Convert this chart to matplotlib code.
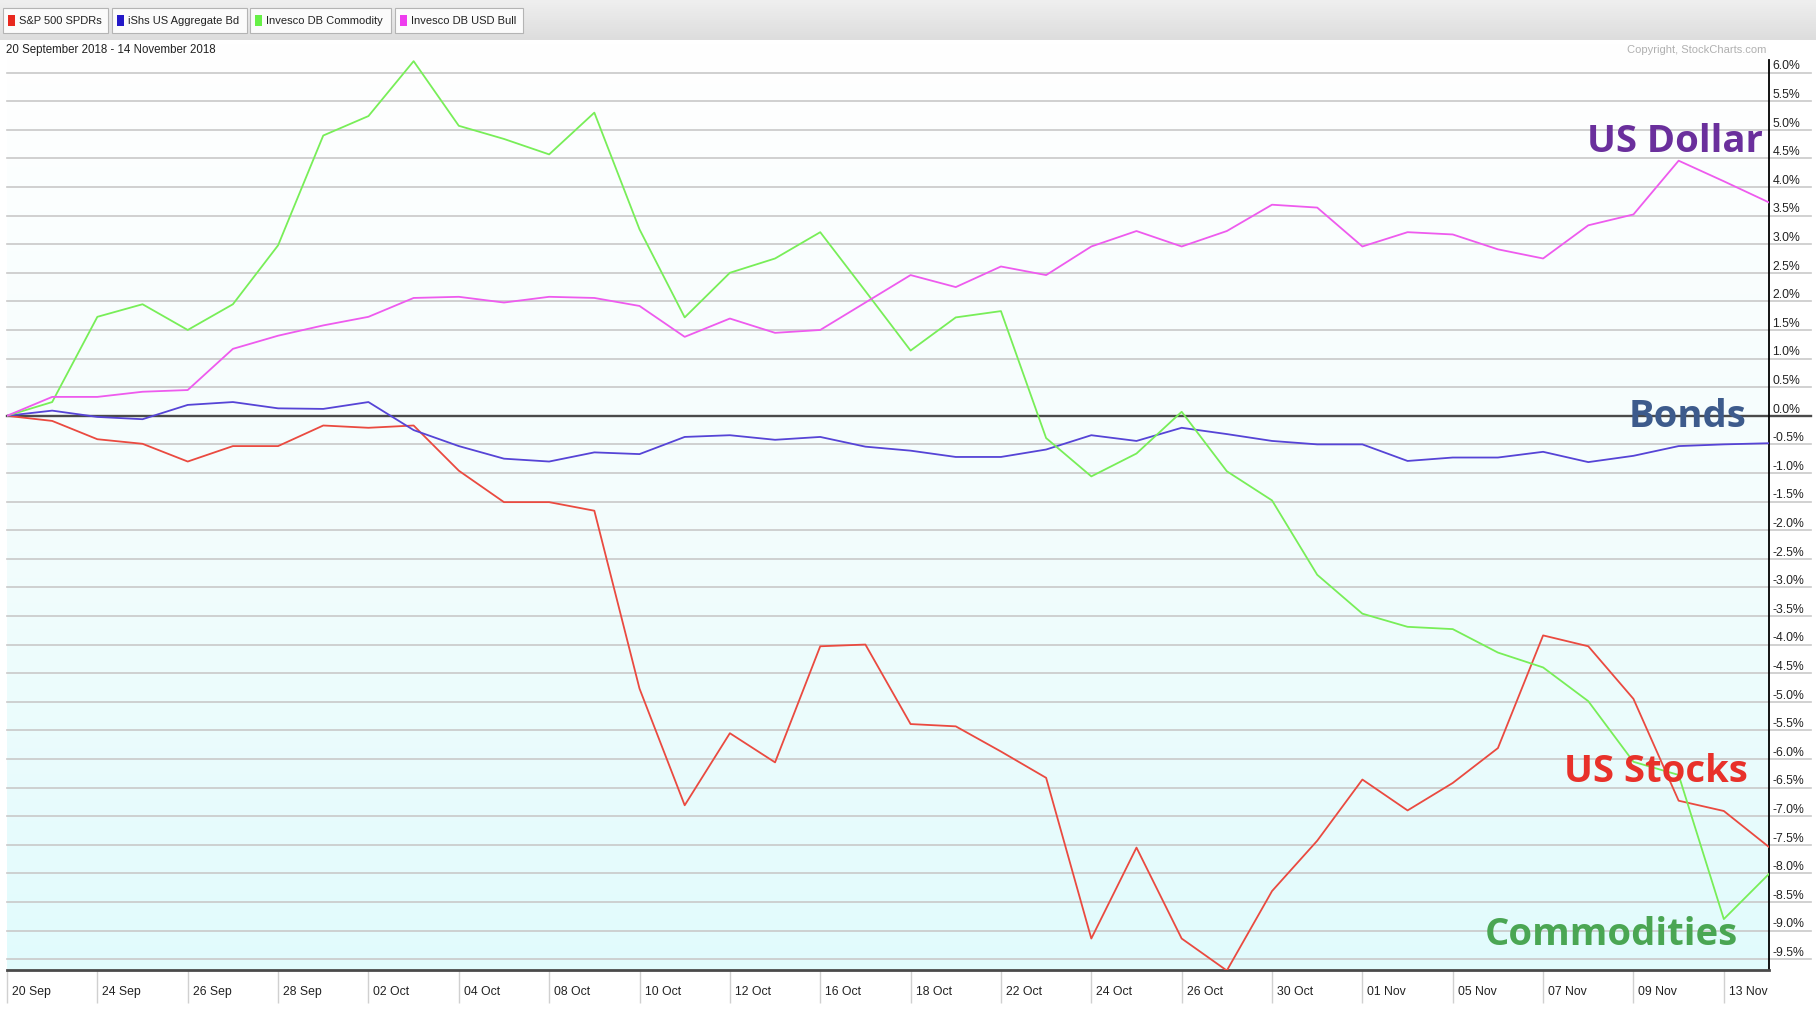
import numpy as np
import pandas as pd
import matplotlib
matplotlib.use('Agg')
import matplotlib.pyplot as plt
from matplotlib.colors import LinearSegmentedColormap
from matplotlib.transforms import ScaledTranslation
from matplotlib.patches import Rectangle

W, H = 1816, 1014
NARROW = ['Liberation Sans Narrow', 'Liberation Sans', 'DejaVu Sans']

# trading days 20 Sep 2018 - 14 Nov 2018
dates = [d.strftime('%d %b') for d in pd.bdate_range('2018-09-20', '2018-11-14')]

# percent change since 20 Sep
spy = [0, -0.09, -0.41, -0.49, -0.80, -0.53, -0.53, -0.17, -0.21, -0.17,
       -0.96, -1.51, -1.51, -1.66, -4.77, -6.81, -5.55, -6.06, -4.03, -4.00,
       -5.39, -5.43, -5.87, -6.33, -9.14, -7.55, -9.14, -9.70, -8.31, -7.43,
       -6.36, -6.90, -6.42, -5.81, -3.84, -4.03, -4.95, -6.73, -6.91, -7.54]
agg = [0, 0.09, -0.02, -0.06, 0.19, 0.24, 0.13, 0.12, 0.24, -0.25,
       -0.53, -0.75, -0.80, -0.64, -0.67, -0.37, -0.34, -0.42, -0.37, -0.54,
       -0.61, -0.72, -0.72, -0.59, -0.34, -0.44, -0.21, -0.32, -0.44, -0.50,
       -0.50, -0.79, -0.73, -0.73, -0.63, -0.81, -0.70, -0.53, -0.50, -0.48]
dbc = [0, 0.24, 1.73, 1.95, 1.50, 1.95, 2.98, 4.90, 5.24, 6.20,
       5.07, 4.84, 4.57, 5.30, 3.26, 1.72, 2.50, 2.75, 3.21, 2.18,
       1.14, 1.72, 1.83, -0.39, -1.06, -0.66, 0.07, -0.97, -1.48, -2.78,
       -3.46, -3.69, -3.73, -4.14, -4.40, -4.99, -6.05, -6.28, -8.80, -8.01]
uup = [0, 0.33, 0.33, 0.42, 0.45, 1.17, 1.40, 1.58, 1.73, 2.06,
       2.08, 1.98, 2.08, 2.06, 1.92, 1.38, 1.70, 1.45, 1.50, 1.98,
       2.46, 2.25, 2.61, 2.46, 2.96, 3.23, 2.96, 3.23, 3.69, 3.64,
       2.96, 3.21, 3.17, 2.91, 2.75, 3.33, 3.52, 4.46, 4.10, 3.73]

names = ['S&P 500 SPDRs', 'iShs US Aggregate Bd', 'Invesco DB Commodity', 'Invesco DB USD Bull']
series = [spy, agg, dbc, uup]
line_colors = ['#ea4a40', '#5644d6', '#78ee58', '#ee5bee']
key_colors = ['#e8281e', '#2318c8', '#66f046', '#ee3cee']

levels = np.round(np.arange(-9.5, 6.01, 0.5), 1)


def fx(px):
    return px / W


def fy(py):
    return 1 - py / H


fig = plt.figure(figsize=(W / 100, H / 100), dpi=100, facecolor='white')

# grey header bar with the legend "buttons"
hdr = fig.add_axes([0, fy(40), 1, 40 / H])
hdr.axis('off')
hdr.imshow(np.linspace(0, 1, 64).reshape(-1, 1), aspect='auto', extent=(0, 1, 0, 1),
           cmap=LinearSegmentedColormap.from_list('hdr', ['#efefef', '#dddddd']))
hdr.set_xlim(0, 1)
hdr.set_ylim(0, 1)

buttons = [(3, 108), (112, 247), (250, 391), (395, 523)]
for (x0, x1), name, col in zip(buttons, names, key_colors):
    fig.patches.append(Rectangle((fx(x0), fy(33)), (x1 - x0) / W, 25 / H, transform=fig.transFigure,
                                 fc='#fbfbfb', ec='#b4b4b4', lw=0.8, zorder=3))
    fig.patches.append(Rectangle((fx(x0 + 5), fy(26)), 7 / W, 11 / H, transform=fig.transFigure,
                                 fc=col, ec='none', zorder=4))
    fig.text(fx(x0 + 16), fy(20.5), name, va='center', ha='left', fontsize=8,
             family=NARROW, color='#222222', zorder=5)

# main chart
ax = fig.add_axes([fx(7), fy(970), (1769 - 7) / W, (970 - 40) / H])
x = np.arange(len(dates))
ax.set_xlim(0, len(dates) - 1)
ax.set_ylim(-9.69, 6.57)

bg = LinearSegmentedColormap.from_list('bg', ['#ffffff', '#f4fdfd', '#e1fbfc'])
ax.imshow(np.linspace(0, 1, 256).reshape(-1, 1), aspect='auto', cmap=bg, zorder=0,
          extent=(0, len(dates) - 1, -9.69, 6.57))

for v in levels:
    if v == 0:
        continue
    ax.axhline(v, xmin=0, xmax=1.024, color='#c9c9c9', lw=1.2, clip_on=False, zorder=1)
ax.axhline(0, xmin=0, xmax=1.024, color='#4a4a4a', lw=1.7, clip_on=False, zorder=2)

for vals, col in zip(series, line_colors):
    ax.plot(x, vals, color=col, lw=1.3, zorder=4)

for s in ['left', 'top']:
    ax.spines[s].set_visible(False)
ax.spines['right'].set_color('black')
ax.spines['right'].set_linewidth(1.3)
ax.spines['right'].set_bounds(-9.69, 6.22)
ax.spines['bottom'].set_color('#4a4a4a')
ax.spines['bottom'].set_linewidth(2)

ax.yaxis.tick_right()
ax.set_yticks(levels)
ax.set_yticklabels([f'{v:.1f}%' for v in levels], fontfamily=NARROW)
ax.tick_params(axis='y', length=0, pad=2.5, labelsize=8.8, labelcolor='#222222')

ax.set_xticks(x[::2])
ax.set_xticklabels(dates[::2], fontfamily=NARROW, ha='left')
ax.tick_params(axis='x', length=24, width=1, color='#d0d0d0', pad=-12.5,
               labelsize=8.8, labelcolor='#222222')

for lbl in ax.get_yticklabels():
    lbl.set_transform(lbl.get_transform() + ScaledTranslation(0, 7.7 / 100, fig.dpi_scale_trans))
for lbl in ax.get_xticklabels():
    lbl.set_transform(lbl.get_transform() + ScaledTranslation(5 / 100, 0, fig.dpi_scale_trans))

fig.text(fx(6), fy(50), '20 September 2018 - 14 November 2018', va='center', ha='left',
         fontsize=8.3, family=NARROW, color='#222222')
fig.text(fx(1766), fy(50), 'Copyright, StockCharts.com', va='center', ha='right',
         fontsize=8, family=NARROW, color='#b0b0b0')

# big labels on the right
labels = [('US Dollar', '#6a2f9c', 1763, 152),
          ('Bonds', '#3d5b8c', 1747, 427),
          ('US Stocks', '#e8312a', 1748, 782),
          ('Commodities', '#4aa653', 1738, 945)]
for txt, col, rx, base in labels:
    fig.text(fx(rx), fy(base), txt, ha='right', va='baseline', fontsize=27.5,
             fontweight='bold', family='Open Sans', color=col, zorder=6)

fig.savefig('out.png', dpi=100, facecolor='white')
